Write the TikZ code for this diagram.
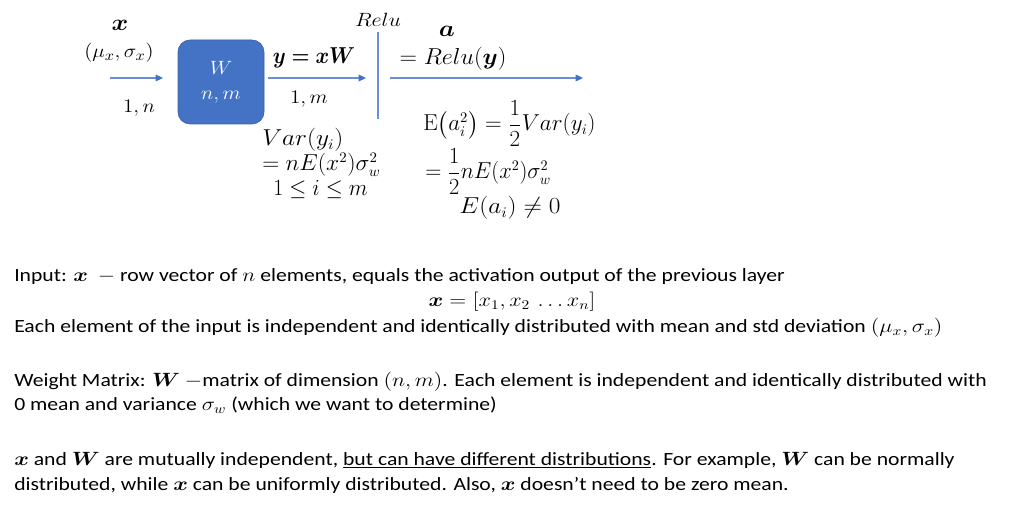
\documentclass[tikz,border=0pt]{standalone}
\usepackage{amsmath,bm}
\usepackage[no-math]{fontspec}
\setmainfont{Carlito}
\usetikzlibrary{arrows.meta}
\definecolor{office}{HTML}{4472C4}
\definecolor{flowblue}{HTML}{6A8FD8}
\newcommand\hs[2][1.16]{\scalebox{#1}[1]{#2}}
\begin{document}
\begin{tikzpicture}[x=0.75pt,y=-0.75pt,
  lbl/.style={inner sep=0pt, font=\fontsize{16}{19}\selectfont},
  mlbl/.style={lbl, anchor=base west},
  txt/.style={anchor=base west, inner sep=0pt, font=\fontsize{14}{17}\selectfont},
  flow/.style={draw=flowblue, line width=0.8pt, -{Triangle[length=5.5pt,width=5pt,color=office]}},
  divider/.style={draw=flowblue, line width=0.8pt},
  wbox/.style={fill=office, draw=office!85!black, line width=0.5pt, rounded corners=9pt,
    minimum width=64.5pt, minimum height=63pt, inner sep=0pt},
  wtext/.style={lbl, text=white, font=\fontsize{15}{18}\selectfont}]
\useasboundingbox (0,0) rectangle (1024,530);
\fill[white] (0,0) rectangle (1024,530);

% input
\node[lbl] (xlab) at (120,25) {\hs[1.1]{$\bm{x}$}};
\node[lbl, font=\fontsize{15}{18}\selectfont] (mux) at (119,53) {\hs[1.1]{$(\mu_x,\sigma_x)$}};
\node[lbl, font=\fontsize{15}{18}\selectfont] (dimx) at (139,108) {\hs[1.1]{$1,n$}};
\coordinate (in0) at (110,78);
\coordinate (in1) at (163,78);
\draw[flow] (in0) -- (in1);

% weight box
\node[wbox] (Wbox) at (221,82) {};
\node[wtext] (Wlab) at (Wbox.center |- 0,68) {\hs[1.1]{$W$}};
\node[wtext] (Wdim) at (Wbox.center |- 0,97) {\hs[1.1]{$n,m$}};

% y
\node[lbl] (ylab) at (314,58) {\hs[0.9]{$\bm{y=xW}$}};
\node[lbl, font=\fontsize{15}{18}\selectfont] (dimy) at (309,99) {\hs[1.1]{$1,m$}};
\coordinate (y0) at (268,78);
\coordinate (y1) at (366,78);
\draw[flow] (y0) -- (y1);
\node[mlbl] (vary1) at (262,146) {\hs[1.1]{$Var(y_i)$}};
\node[mlbl] (vary2) at (262,171) {\hs[1.02]{$=nE(x^2)\sigma_w^2$}};
\node[mlbl] (vary3) at (273,196) {\hs[0.95]{$1\le i\le m$}};

% relu
\node[lbl, font=\fontsize{15}{18}\selectfont] (relulab) at (378,20) {\hs[1.15]{$Relu$}};
\coordinate (rt) at (378,32);
\coordinate (rb) at (378,119);
\draw[divider] (rt) -- (rb);
\node[lbl] (alab) at (447,31) {\hs[1.1]{$\bm{a}$}};
\node[lbl] (arelu) at (453,59) {\hs[1.05]{$=Relu(\bm{y})$}};
\coordinate (a0) at (390,78);
\coordinate (a1) at (583,78);
\draw[flow] (a0) -- (a1);
\node[mlbl] (ea2) at (423,131) {\hs[1.0]{$\mathrm{E}\bigl(a_i^2\bigr)=\dfrac{1}{2}Var(y_i)$}};
\node[mlbl] (ea2b) at (425,179) {\hs[0.97]{$=\dfrac{1}{2}nE(x^2)\sigma_w^2$}};
\node[lbl, anchor=base] (ea) at (510,214) {\hs[1.1]{$E(a_i)\neq 0$}};

% text
\node[txt] (t1) at (14,282) {\hs{Input: $\bm{x}$ \ $-$ row vector of $n$ elements, equals the activation output of the previous layer}};
\node[txt, anchor=base] (t2) at (512,307) {\hs{$\bm{x}=[x_1,x_2\,\dots x_n]$}};
\node[txt] (t3) at (14,333) {\hs{Each element of the input is independent and identically distributed with mean and std deviation $(\mu_x,\sigma_x)$}};
\node[txt] (t4) at (14,387) {\hs{Weight Matrix: $\bm{W}$ $-$matrix of dimension $(n,m)$. Each element is independent and identically distributed with}};
\node[txt] (t5) at (14,411) {\hs{0 mean and variance $\sigma_w$ (which we want to determine)}};
\node[txt] (t6) at (14,465) {\hs{$\bm{x}$ and $\bm{W}$ are mutually independent, \underline{but can have different distributions}. For example, $\bm{W}$ can be normally}};
\node[txt] (t7) at (14,490) {\hs{distributed, while $\bm{x}$ can be uniformly distributed. Also, $\bm{x}$ doesn’t need to be zero mean.}};
\end{tikzpicture}
\end{document}
